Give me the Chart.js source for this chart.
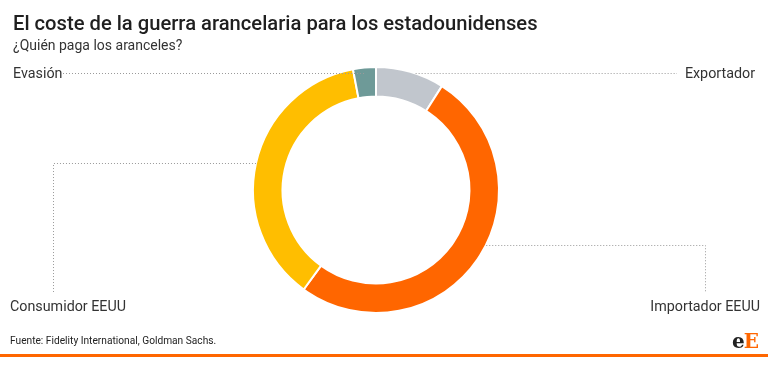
<!DOCTYPE html>
<html>
<head>
<meta charset="utf-8">
<script src="https://cdn.jsdelivr.net/npm/chart.js@4"></script>
<style>
  html, body { margin: 0; padding: 0; background: #fff; }
  #wrap { position: relative; width: 768px; height: 369px; overflow: hidden; font-family: Roboto, "Noto Sans", sans-serif; color: #222; }
  #c { position: absolute; left: 0; top: 0; }
  .t { position: absolute; white-space: nowrap; line-height: 1; }
  #title { left: 13px; top: 13px; font-size: 20.2px; font-weight: 500; color: #1f1f1f; }
  #sub { left: 13px; top: 38px; font-size: 14px; color: #333; }
  .lab { font-size: 14.3px; color: #333; }
  #foot { left: 10px; top: 335px; font-size: 11.5px; color: #222; transform-origin: 0 0; transform: scaleX(0.885); }
  #logo { right: 10px; top: 331px; font-family: "DejaVu Serif", "Liberation Serif", serif; font-weight: bold; font-size: 20px; letter-spacing: -1px; }
  #logo .e1 { color: #222; }
  #logo .e2 { color: #ff6600; }
  #bar { position: absolute; left: 0; top: 354px; width: 768px; height: 3px; background: #ff6600; }
</style>
</head>
<body>
<div id="wrap">
  <canvas id="c" width="768" height="369"></canvas>
  <div class="t" id="title">El coste de la guerra arancelaria para los estadounidenses</div>
  <div class="t" id="sub">¿Quién paga los aranceles?</div>
  <div class="t lab" id="lab0"></div>
  <div class="t lab" id="lab1"></div>
  <div class="t lab" id="lab2"></div>
  <div class="t lab" id="lab3"></div>
  <div class="t" id="foot">Fuente: Fidelity International, Goldman Sachs.</div>
  <div class="t" id="logo"><span class="e1">e</span><span class="e2">E</span></div>
  <div id="bar"></div>
</div>
<script>
// ---- data ----
const categories = ["Exportador", "Importador EEUU", "Consumidor EEUU", "Evasión"];
const shares = [9, 51, 37, 3];
const colors = ["#c1c6cd", "#ff6600", "#ffbe00", "#6e9a98"];

// ---- label layout (positions only) ----
const labelLayout = [
  { left: null, right: 13, top: 66, anchorFrac: 0.59, rOff: 2, kind: "topRight", lineEndX: 677, lineY: 73.5 },
  { left: null, right: 8, top: 299, anchorFrac: 0.457, rOff: 0, kind: "bottomRight", lineX: 705.5, lineBottom: 292 },
  { left: 10, right: null, top: 299, anchorFrac: 0.5, rOff: 0, kind: "bottomLeft", lineX: 53.5, lineBottom: 292 },
  { left: 13, right: null, top: 66, anchorFrac: 0.5, rOff: 8, kind: "topLeft", lineEndX: 63, lineY: 73.5 }
];

labelLayout.forEach((L, i) => {
  const el = document.getElementById("lab" + i);
  el.textContent = categories[i];
  if (L.left !== null) el.style.left = L.left + "px";
  if (L.right !== null) el.style.right = L.right + "px";
  el.style.top = L.top + "px";
});

const leaderPlugin = {
  id: "leaders",
  afterDraw(chart) {
    const ctx = chart.ctx;
    const meta = chart.getDatasetMeta(0);
    ctx.save();
    ctx.strokeStyle = "#9a9a9a";
    ctx.lineWidth = 1;
    ctx.setLineDash([1, 2]);
    meta.data.forEach((arc, i) => {
      const L = labelLayout[i];
      const p = arc.getProps(["x", "y", "startAngle", "endAngle", "outerRadius"], true);
      const a = p.startAngle + (p.endAngle - p.startAngle) * L.anchorFrac;
      const r = p.outerRadius - L.rOff;
      const ax = p.x + Math.cos(a) * r;
      const ay = p.y + Math.sin(a) * r;
      ctx.beginPath();
      if (L.kind === "topRight") {
        ctx.moveTo(ax, L.lineY);
        ctx.lineTo(L.lineEndX, L.lineY);
      } else if (L.kind === "topLeft") {
        ctx.moveTo(L.lineEndX, L.lineY);
        ctx.lineTo(ax, L.lineY);
      } else {
        const y = Math.round(ay) + 0.5;
        ctx.moveTo(ax, y);
        ctx.lineTo(L.lineX, y);
        ctx.lineTo(L.lineX, L.lineBottom);
      }
      ctx.stroke();
    });
    ctx.restore();
  }
};

new Chart(document.getElementById("c"), {
  type: "doughnut",
  data: {
    labels: categories,
    datasets: [{
      data: shares,
      backgroundColor: colors,
      borderColor: "#ffffff",
      borderWidth: 2,
      hoverOffset: 0
    }]
  },
  options: {
    responsive: false,
    animation: false,
    cutout: "76%",
    layout: { padding: { left: 252, right: 268, top: 66, bottom: 55 } },
    plugins: {
      legend: { display: false },
      tooltip: { enabled: false },
      title: { display: false }
    }
  },
  plugins: [leaderPlugin]
});
</script>
</body>
</html>
